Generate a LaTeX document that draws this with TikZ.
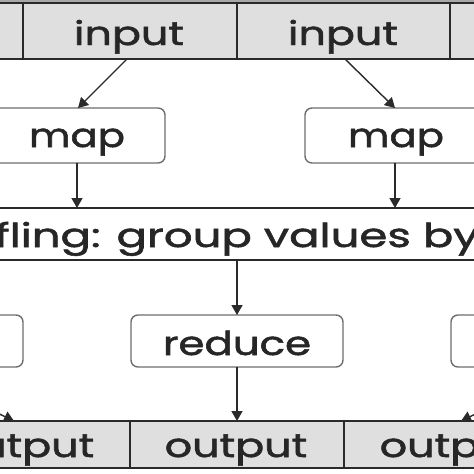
\documentclass[tikz,border=0pt]{standalone}
\usepackage{fontspec}
\setmainfont{Poppins}[FakeBold=1.5]
\usetikzlibrary{arrows.meta}
\definecolor{cellfill}{HTML}{DFDFDF}
\definecolor{linec}{HTML}{2A2A2A}
\definecolor{boxline}{HTML}{6E6E6E}
\newcommand\wide[2]{\scalebox{#1}[1]{#2}}
\tikzset{
  cell/.style={draw=linec, line width=1.6pt, fill=cellfill},
  rbox/.style={draw=boxline, line width=1.4pt, rounded corners=7pt, fill=white},
  lbl/.style={font=\fontsize{33}{38}\selectfont, text=black!85, inner sep=0pt, anchor=base},
  arr/.style={draw=linec, line width=1.4pt, -{Triangle[length=10pt,width=11pt]}},
}
\begin{document}
\begin{tikzpicture}[x=1pt,y=-1pt]
\useasboundingbox (0,0) rectangle (474,474);
\clip (0,0) rectangle (474,474);
\fill[white] (0,0) rectangle (474,474);
% input row
\fill[boxline!60] (0,0) rectangle (474,3);
\draw[cell] (-190,3) rectangle (23,59);
\draw[cell] (23,3) rectangle (237,59);
\draw[cell] (237,3) rectangle (450,59);
\draw[cell] (450,3) rectangle (664,59);
\node[lbl] (in1) at (129,45) {\wide{1.3}{input}};
\node[lbl] (in2) at (343,45) {\wide{1.3}{input}};
\coordinate (in1b) at (127,59);
\coordinate (in2b) at (345,59);
% map boxes
\draw[rbox] (-11,108) rectangle (165,163);
\draw[rbox] (305,108) rectangle (487,163);
\node[lbl] (map1) at (77,147) {\wide{1.22}{map}};
\node[lbl] (map2) at (396,147) {\wide{1.22}{map}};
\coordinate (map1t) at (78,108);
\coordinate (map2t) at (395,108);
\coordinate (map1b) at (77,163);
\coordinate (map2b) at (395,163);
\draw[arr] (in1b) -- (map1t);
\draw[arr] (in2b) -- (map2t);
% shuffle band
\draw[linec, line width=1.4pt] (-10,208) -- (490,208);
\draw[linec, line width=1.4pt] (-10,260) -- (490,260);
\node[lbl] (shuf) at (233,247) {\wide{1.364}{shuffling: group values by key}};
\coordinate (sh1) at (77,208);
\coordinate (sh2) at (395,208);
\coordinate (sh3) at (237,260);
\draw[arr] (map1b) -- (sh1);
\draw[arr] (map2b) -- (sh2);
% reduce boxes
\draw[rbox] (-190,315) rectangle (23,367);
\draw[rbox] (131,315) rectangle (343,367);
\draw[rbox] (451,315) rectangle (664,367);
\node[lbl] (red) at (237,355) {\wide{1.27}{reduce}};
\coordinate (redt) at (237,315);
\coordinate (redb) at (237,367);
\draw[arr] (sh3) -- (redt);
% output row
\draw[cell] (-84,421) rectangle (130,468);
\draw[cell] (130,421) rectangle (344,468);
\draw[cell] (344,421) rectangle (558,468);
\node[lbl] (out0) at (23,457) {\wide{1.3}{output}};
\node[lbl] (out1) at (236,457) {\wide{1.3}{output}};
\node[lbl] (out2) at (451,457) {\wide{1.3}{output}};
\coordinate (o0) at (14,421);
\coordinate (o1) at (237,421);
\coordinate (o2) at (461,421);
\coordinate (l0) at (-40,395);
\coordinate (r0) at (515,395);
\draw[arr] (redb) -- (o1);
\draw[arr] (l0) -- (o0);
\draw[arr] (r0) -- (o2);
\end{tikzpicture}
\end{document}
